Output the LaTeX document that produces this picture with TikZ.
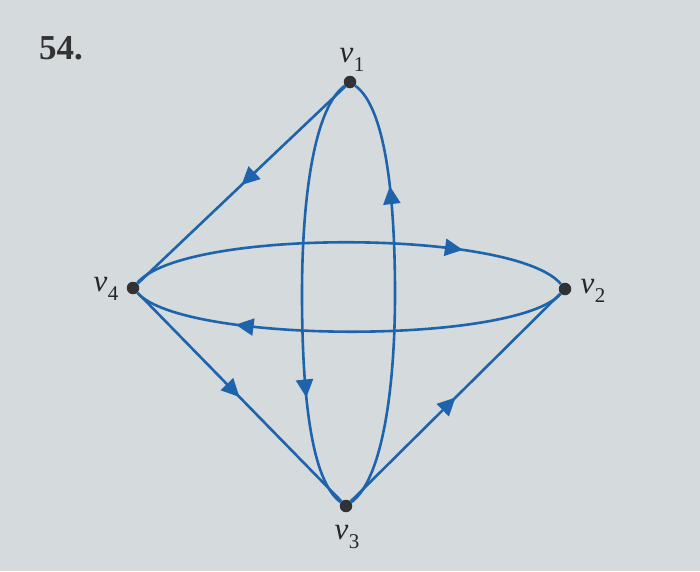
\documentclass[tikz,border=0pt]{standalone}
\usepackage{fontspec}
\setmainfont{Liberation Serif}
\usetikzlibrary{arrows.meta,decorations.markings}
\definecolor{edgeblue}{RGB}{30,100,172}
\definecolor{bgc}{RGB}{213,218,220}
\definecolor{dotc}{RGB}{48,50,54}
\newcommand{\vlab}[1]{{\itshape v}\kern0.5pt\raisebox{-0.28em}{\fontsize{21}{24}\selectfont #1}}
\begin{document}
\begin{tikzpicture}[x=1pt,y=-1pt,
  vtx/.style={circle,fill=dotc,inner sep=0pt,minimum size=12.5pt},
  edge/.style={draw=edgeblue,line width=2.6pt},
  midarrow/.style={postaction={decorate},decoration={markings,
    mark=at position #1 with {\arrow{Triangle[length=18pt,width=17pt]}}}},
  lbl/.style={font=\fontsize{31}{34}\selectfont,text=black!85,inner sep=0pt}]
\fill[bgc] (0,0) rectangle (700,571);
\useasboundingbox (0,0) rectangle (700,571);

\node[font=\bfseries\fontsize{35}{40}\selectfont,text=black!80,inner sep=0pt] (num) at (61,48) {54.};

\node[vtx] (v1) at (350,82) {};
\node[vtx] (v2) at (565,289) {};
\node[vtx] (v3) at (346,506) {};
\node[vtx] (v4) at (133,288) {};

\coordinate (mr) at (395,294);
\coordinate (ml) at (302,294);

\node[lbl] (l1) at (352,60) {\vlab{1}};
\node[lbl] (l2) at (593,291) {\vlab{2}};
\node[lbl] (l3) at (347,537) {\vlab{3}};
\node[lbl] (l4) at (106,289) {\vlab{4}};

% straight edges
\draw[edge,midarrow=0.5] (v1) -- (v4);
\draw[edge,midarrow=0.5] (v4) -- (v3);
\draw[edge,midarrow=0.5] (v3) -- (v2);

% vertical curved pair
\draw[edge,midarrow=0.74] (v1) .. controls +(-35,25) and +(0,-100) .. (ml)
  .. controls +(0,100) and +(-35,-25) .. (v3);
\draw[edge,midarrow=0.75] (v3) .. controls +(35,-25) and +(0,100) .. (mr)
  .. controls +(0,-100) and +(35,25) .. (v1);

% horizontal curved pair
\draw[edge,midarrow=0.76] (v4) .. controls +(50,-60) and +(-50,-60) .. (v2);
\draw[edge,midarrow=0.76] (v2) .. controls +(-50,56) and +(50,56) .. (v4);
\end{tikzpicture}
\end{document}
